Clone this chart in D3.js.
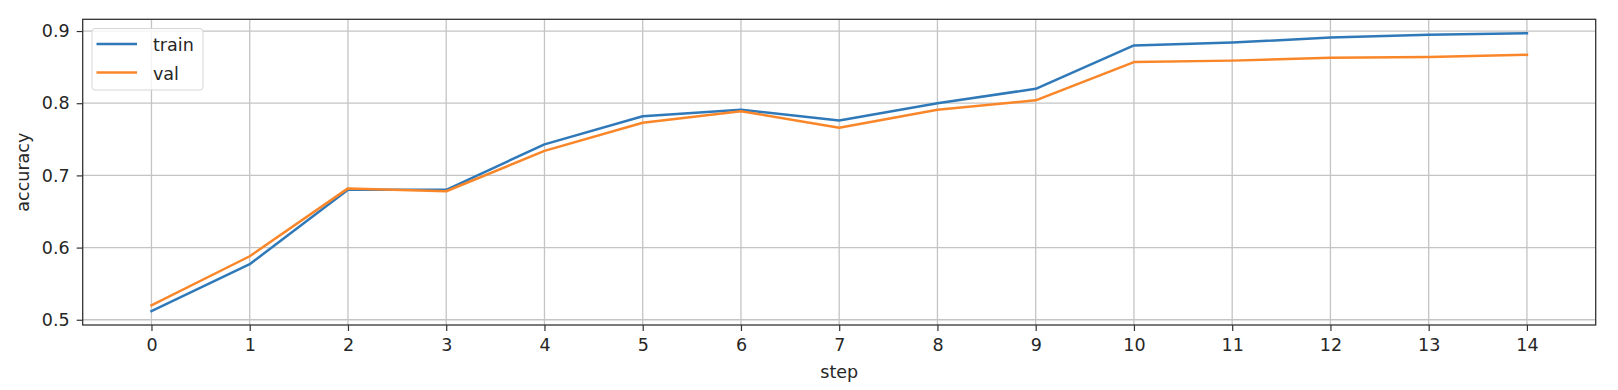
<!DOCTYPE html>
<html>
<head>
<meta charset="utf-8">
<script src="https://cdn.jsdelivr.net/npm/d3@7"></script>
<style>
  body { margin: 0; background: #fff; }
  text { font-family: "DejaVu Sans", sans-serif; fill: #262626; }
</style>
</head>
<body>
<div id="chart"></div>
<script>
// values
var steps = [0, 1, 2, 3, 4, 5, 6, 7, 8, 9, 10, 11, 12, 13, 14];
var train = [0.512, 0.577, 0.680, 0.680, 0.743, 0.782, 0.791, 0.776, 0.800, 0.820, 0.880, 0.884, 0.891, 0.895, 0.897];
var val = [0.520, 0.588, 0.682, 0.678, 0.734, 0.773, 0.789, 0.766, 0.791, 0.804, 0.857, 0.859, 0.863, 0.864, 0.867];
var yTicks = [0.5, 0.6, 0.7, 0.8, 0.9];
var seriesNames = ["train", "val"];
var seriesColors = ["#3079b9", "#f98629"];

var width = 1618, height = 390;
var margin = {top: 19.3, right: 22.3, bottom: 65, left: 82.7};
var fontSize = "17.5px";

var svg = d3.select("#chart")
  .append("svg")
  .attr("width", width)
  .attr("height", height);

// matplotlib style 5% padding on both axes
var xPad = (d3.max(steps) - d3.min(steps)) * 0.05;
var all = train.concat(val);
var yPad = (d3.max(all) - d3.min(all)) * 0.05;

var xScale = d3.scaleLinear()
  .domain([d3.min(steps) - xPad, d3.max(steps) + xPad])
  .range([margin.left, width - margin.right]);
var yScale = d3.scaleLinear()
  .domain([d3.min(all) - yPad, d3.max(all) + yPad])
  .range([height - margin.bottom, margin.top]);

// grid
svg.append("g")
  .selectAll("line")
  .data(steps)
  .enter()
  .append("line")
  .attr("x1", function(d) { return xScale(d); })
  .attr("x2", function(d) { return xScale(d); })
  .attr("y1", margin.top)
  .attr("y2", height - margin.bottom)
  .attr("stroke", "#c4c4c4")
  .attr("stroke-width", 1.3);
svg.append("g")
  .selectAll("line")
  .data(yTicks)
  .enter()
  .append("line")
  .attr("x1", margin.left)
  .attr("x2", width - margin.right)
  .attr("y1", function(d) { return yScale(d); })
  .attr("y2", function(d) { return yScale(d); })
  .attr("stroke", "#c4c4c4")
  .attr("stroke-width", 1.3);

// axes
var xAxis = d3.axisBottom(xScale).tickValues(steps).tickFormat(d3.format("d")).tickSize(6).tickPadding(8);
var yAxis = d3.axisLeft(yScale).tickValues(yTicks).tickFormat(d3.format(".1f")).tickSize(6).tickPadding(7);

var gx = svg.append("g")
  .attr("transform", "translate(0," + (height - margin.bottom) + ")")
  .call(xAxis);
var gy = svg.append("g")
  .attr("transform", "translate(" + margin.left + ",0)")
  .call(yAxis);
[gx, gy].forEach(function(g) {
  g.select(".domain").remove();
  g.selectAll(".tick line").attr("stroke", "#333").attr("stroke-width", 1.2);
  g.selectAll(".tick text").style("font-size", fontSize).attr("fill", "#262626");
});

// lines
var line = d3.line()
  .x(function(d, i) { return xScale(steps[i]); })
  .y(function(d) { return yScale(d); });

[train, val].forEach(function(s, i) {
  svg.append("path")
    .datum(s)
    .attr("d", line)
    .attr("fill", "none")
    .attr("stroke", seriesColors[i])
    .attr("stroke-width", 2.5)
    .attr("stroke-linejoin", "round")
    .attr("stroke-linecap", "square");
});

// frame
svg.append("rect")
  .attr("x", margin.left)
  .attr("y", margin.top)
  .attr("width", width - margin.left - margin.right)
  .attr("height", height - margin.top - margin.bottom)
  .attr("fill", "none")
  .attr("stroke", "#333")
  .attr("stroke-width", 1.3);

// axis labels
svg.append("text")
  .attr("x", (margin.left + width - margin.right) / 2)
  .attr("y", 378)
  .attr("text-anchor", "middle")
  .style("font-size", fontSize)
  .text("step");
svg.append("text")
  .attr("transform", "translate(28.5," + ((margin.top + height - margin.bottom) / 2) + ") rotate(-90)")
  .attr("text-anchor", "middle")
  .style("font-size", fontSize)
  .text("accuracy");

// legend
var legend = svg.append("g").attr("transform", "translate(92,28.5)");
legend.append("rect")
  .attr("width", 111)
  .attr("height", 61.5)
  .attr("rx", 3)
  .attr("fill", "#fff")
  .attr("fill-opacity", 0.8)
  .attr("stroke", "#d6d6d6")
  .attr("stroke-width", 1);
seriesNames.forEach(function(name, i) {
  legend.append("line")
    .attr("x1", 4.5)
    .attr("x2", 45)
    .attr("y1", 15.5 + i * 28.5)
    .attr("y2", 15.5 + i * 28.5)
    .attr("stroke", seriesColors[i])
    .attr("stroke-width", 2.5);
  legend.append("text")
    .attr("x", 61)
    .attr("y", 22.5 + i * 28.5)
    .style("font-size", fontSize)
    .text(name);
});
</script>
</body>
</html>
